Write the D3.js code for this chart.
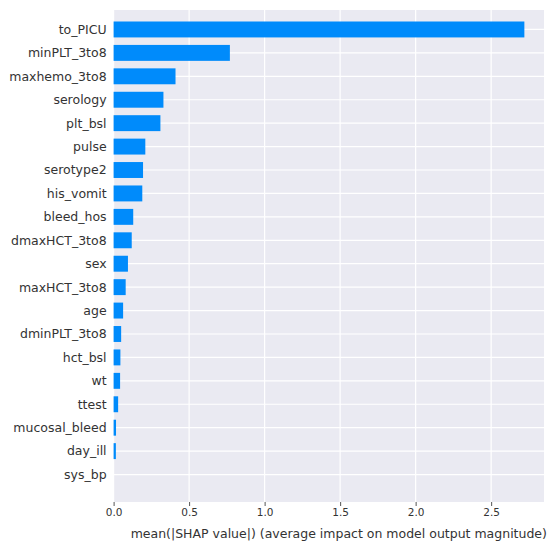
<!DOCTYPE html>
<html><head><meta charset="utf-8">
<script src="https://cdn.jsdelivr.net/npm/d3@7"></script>
<style>body{margin:0;background:#fff}text{font-family:"DejaVu Sans",sans-serif;fill:#333}</style>
</head><body><div id="chart"></div>
<script>
// Features, top to bottom, with mean |SHAP|
const features = ["to_PICU","minPLT_3to8","maxhemo_3to8","serology","plt_bsl","pulse","serotype2","his_vomit","bleed_hos","dmaxHCT_3to8","sex","maxHCT_3to8","age","dminPLT_3to8","hct_bsl","wt","ttest","mucosal_bleed","day_ill","sys_bp"];
const values = [2.72,0.77,0.41,0.33,0.31,0.21,0.195,0.19,0.13,0.12,0.095,0.08,0.063,0.05,0.045,0.043,0.03,0.016,0.015,0];
const ticks = [0,0.5,1.0,1.5,2.0,2.5];

const width = 550, height = 545;
const mLeft = 113.6, mRight = 544, mTop = 10, mBottom = 502;

const svg = d3.select("#chart").append("svg")
    .attr("width", width).attr("height", height);

const x = d3.scaleLinear().domain([0, 2.85]).range([mLeft, mRight]);
const y = d3.scaleBand().domain(features).range([mTop + 4, mBottom - 12]).padding(0.32);

svg.append("rect").attr("x", mLeft).attr("y", mTop)
    .attr("width", mRight - mLeft).attr("height", mBottom - mTop).attr("fill", "#eaeaf2");

// grid
svg.selectAll(".vg").data(ticks).enter().append("line")
    .attr("x1", d => x(d)).attr("x2", d => x(d))
    .attr("y1", mTop).attr("y2", mBottom)
    .attr("stroke", "#fff").attr("stroke-width", 1.2);
svg.selectAll(".hg").data(features).enter().append("line")
    .attr("x1", mLeft).attr("x2", mRight)
    .attr("y1", d => y(d) + y.bandwidth() / 2).attr("y2", d => y(d) + y.bandwidth() / 2)
    .attr("stroke", "#fff").attr("stroke-width", 1.2);

// bars
svg.selectAll(".bar").data(features).enter().append("rect")
    .attr("x", x(0))
    .attr("y", d => y(d))
    .attr("width", (d, i) => x(values[i]) - x(0))
    .attr("height", y.bandwidth())
    .attr("fill", "#008bfb");

// y labels
svg.selectAll(".yl").data(features).enter().append("text")
    .attr("x", mLeft - 7).attr("y", d => y(d) + y.bandwidth() / 2)
    .attr("dy", "0.35em").attr("text-anchor", "end")
    .attr("font-size", 12.5).text(d => d);

// x axis
const xa = svg.append("g").attr("transform", `translate(0,${mBottom})`)
    .call(d3.axisBottom(x).tickValues(ticks).tickFormat(d3.format(".1f")).tickSize(4).tickPadding(3));
xa.select(".domain").remove();
xa.selectAll("line").attr("stroke", "#555");
xa.selectAll("text").attr("font-size", 10.5).attr("fill", "#333");

svg.append("text").attr("x", (mLeft + mRight) / 2 + 10).attr("y", 538)
    .attr("text-anchor", "middle").attr("font-size", 12.5)
    .text("mean(|SHAP value|) (average impact on model output magnitude)");
</script></body></html>
